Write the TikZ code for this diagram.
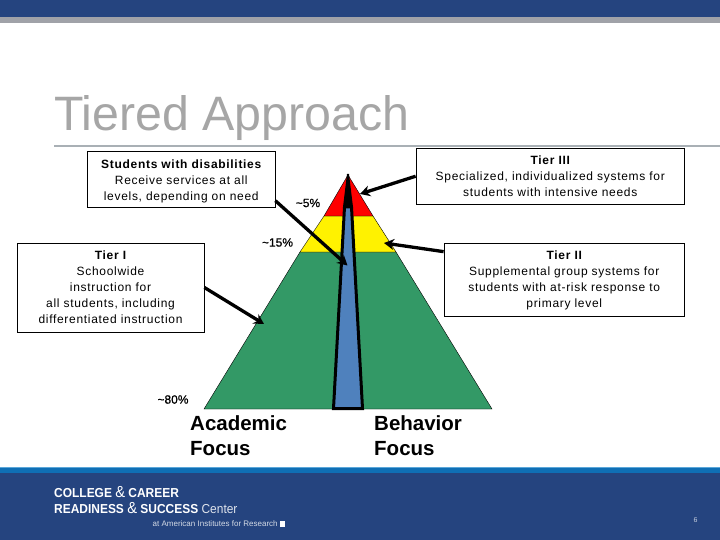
\documentclass[tikz,border=0pt]{standalone}
\usepackage{fontspec}
\setmainfont{Liberation Sans}
\definecolor{navy}{HTML}{25447F}
\definecolor{barblue}{HTML}{0F6FB5}
\definecolor{barlight}{HTML}{5BA7D9}
\definecolor{greybar}{HTML}{A0A2A8}
\definecolor{titlegrey}{HTML}{A6A6A6}
\definecolor{rulegrey}{HTML}{A9B0B5}
\definecolor{pgreen}{HTML}{339966}
\definecolor{pblue}{HTML}{4F81BD}
\newfontfamily\spaced[LetterSpace=5.8]{Liberation Sans}
\newfontfamily\semi[FakeBold=0.6]{Liberation Sans}
\newfontfamily\narrow[FakeStretch=0.92]{Liberation Sans}
\newcommand{\bigamp}{{\mdseries\fontsize{16}{13}\selectfont\&}}
\usetikzlibrary{arrows.meta}
\tikzset{
  callout/.style={draw=black,line width=0.8pt,fill=white,align=center,inner sep=0pt,font=\spaced\fontsize{12}{16}\selectfont},
  calltext/.style={inner sep=0pt,align=center,font=\spaced\fontsize{12}{16}\selectfont},
  pct/.style={inner sep=0pt,font=\semi\fontsize{12}{14}\selectfont},
  focus/.style={inner sep=0pt,align=left,anchor=north west,font=\bfseries\fontsize{20.5}{25}\selectfont},
  tierarrow/.style={line width=3.3pt,-{Stealth[length=10pt,width=11pt]}},
  footer/.style={inner sep=0pt,anchor=west,text=white}
}
\begin{document}
\begin{tikzpicture}[x=1pt,y=-1pt]
\useasboundingbox (0,0) rectangle (720,540);
\fill[white] (0,0) rectangle (720,540);
% header
\fill[navy] (0,0) rectangle (720,17);
\fill[greybar] (0,17) rectangle (720,23.5);
\node[inner sep=0pt,anchor=base west,text=titlegrey,font=\fontsize{48.3}{50}\selectfont] (title) at (54,131) {Tiered Approach};
\coordinate (ruleL) at (54,146);
\coordinate (ruleR) at (720,146);
\draw[rulegrey,line width=1.6pt] (ruleL) -- (ruleR);
% footer
\fill[barlight] (0,467) rectangle (720,468);
\fill[barblue] (0,468) rectangle (720,473);
\fill[navy] (0,473) rectangle (720,540);
\node[footer,font=\narrow\fontsize{13}{13}\selectfont] (f1) at (54,492) {\bfseries COLLEGE \bigamp{} CAREER};
\node[footer,font=\narrow\fontsize{13}{13}\selectfont] (f2) at (54,508) {\bfseries READINESS \bigamp{} SUCCESS {\mdseries\color{white!85!navy}Center}};
\node[footer,text=white!80!navy,font=\fontsize{8}{8}\selectfont] (f3) at (152.5,524) {at American Institutes for Research \textcolor{white}{\rule{5.5pt}{5.5pt}}};
\node[footer,text=white!75!navy,font=\fontsize{7}{8}\selectfont] (pg) at (693.5,520.5) {6};
% pyramid
\coordinate (apex) at (348,175);
\coordinate (rl) at (324,216);
\coordinate (rr) at (373,216);
\coordinate (yl) at (300,252);
\coordinate (yr) at (396,252);
\coordinate (gl) at (204,409);
\coordinate (gr) at (492,409);
\filldraw[fill=pgreen,draw=black,line width=0.4pt] (yl) -- (yr) -- (gr) -- (gl) -- cycle;
\filldraw[fill=yellow,draw=black,line width=0.4pt] (rl) -- (rr) -- (yr) -- (yl) -- cycle;
\filldraw[fill=red,draw=black,line width=0.4pt] (apex) -- (rr) -- (rl) -- cycle;
% strip
\coordinate (sl) at (333.5,408.5);
\coordinate (sr) at (362.5,408.5);
\coordinate (stl) at (344.5,207);
\coordinate (str) at (351.5,207);
\filldraw[fill=pblue,draw=black,line width=3pt,line join=miter] (stl) -- (str) -- (sr) -- (sl) -- cycle;
\fill[black] (347,174) -- (349,174) -- (353,207) -- (343,207) -- cycle;
% boxes
\node[callout,minimum width=187.5pt,minimum height=56pt] (swd) at (181.25,179) {};
\node[calltext] (swdt) at (181.25,181) {{\bfseries Students with disabilities}\\Receive services at all\\levels, depending on need};
\node[callout,minimum width=187pt,minimum height=89pt] (t1) at (110.5,287.5) {{\bfseries Tier I}\\Schoolwide\\instruction for\\all students, including\\differentiated instruction};
\node[callout,minimum width=268.5pt,minimum height=56.5pt] (t3) at (550.25,176.25) {{\bfseries Tier III}\\Specialized, individualized systems for\\students with intensive needs};
\node[callout,minimum width=240.5pt,minimum height=73pt] (t2) at (564.25,279.5) {};
\node[calltext] (t2t) at (564.25,280.5) {{\bfseries Tier II}\\Supplemental group systems for\\students with at-risk response to\\primary level};
% arrow targets
\coordinate (aS) at (347.5,265.5);
\coordinate (a3) at (360,194);
\coordinate (a2) at (384,243);
\coordinate (a1) at (264,324);
\draw[tierarrow] (swd.-13) -- (aS);
\draw[tierarrow] (t3.west) -- (a3);
\draw[tierarrow] (t2.167) -- (a2);
\draw[tierarrow] (t1.east) -- (a1);
% percent labels
\node[pct] (p5) at (308,203) {\textasciitilde 5\%};
\node[pct] (p15) at (277.5,242.5) {\textasciitilde 15\%};
\node[pct] (p80) at (173,399.5) {\textasciitilde 80\%};
\node[focus] (acad) at (190,415) {Academic\\Focus};
\node[focus] (beh) at (374,415) {Behavior\\Focus};
\end{tikzpicture}
\end{document}
